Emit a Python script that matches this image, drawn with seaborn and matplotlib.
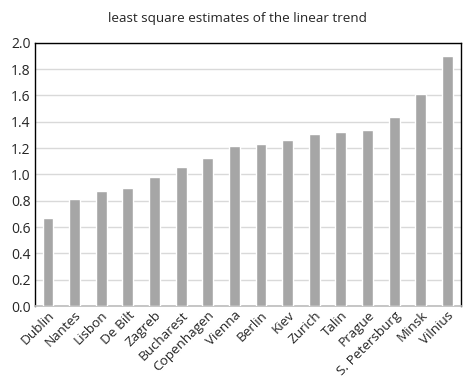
import matplotlib
matplotlib.use("Agg")
import pandas as pd
import matplotlib.pyplot as plt
import seaborn as sns

cities = ["Dublin", "Nantes", "Lisbon", "De Bilt", "Zagreb", "Bucharest", "Copenhagen",
          "Vienna", "Berlin", "Kiev", "Zurich", "Talin", "Prague", "S. Petersburg",
          "Minsk", "Vilnius"]
trend = [0.666, 0.815, 0.876, 0.897, 0.980, 1.054, 1.122, 1.216, 1.233, 1.259,
         1.305, 1.325, 1.335, 1.438, 1.609, 1.902]
yticks = [0.0, 0.2, 0.4, 0.6, 0.8, 1.0, 1.2, 1.4, 1.6, 1.8, 2.0]

df = pd.DataFrame({"city": cities, "trend": trend})

sns.set_theme(style="white")
plt.rcParams["font.family"] = ["Open Sans", "DejaVu Sans"]

fig = plt.figure(figsize=(4.74, 3.79), dpi=100)
ax = fig.add_axes([0.0732, 0.1926, 0.8988, 0.6947])

# bars
sns.barplot(data=df, x="city", y="trend", color="#a6a6a6", saturation=1,
            width=0.41, ax=ax, zorder=3)

ax.set_xlim(-0.5, len(cities) - 0.5)
ax.set_ylim(0, 2.0)
ax.set_yticks(yticks)
ax.set_yticklabels([f"{v:.1f}" for v in yticks], fontsize=10)
ax.yaxis.grid(True, color="#d9d9d9", linewidth=1, zorder=0)
ax.set_xlabel("")
ax.set_ylabel("")
ax.tick_params(axis="x", length=0, pad=2)
ax.tick_params(axis="y", length=0, pad=3)
plt.setp(ax.get_xticklabels(), rotation=45, ha="right", rotation_mode="anchor", fontsize=9.7)

for side in ["left", "top", "right"]:
    ax.spines[side].set_color("black")
    ax.spines[side].set_linewidth(1)
ax.spines["bottom"].set_color("#bfbfbf")

fig.text(0.5, 0.95, "least square estimates of the linear trend", ha="center",
         va="center", fontsize=9.7)

fig.savefig("out.png", dpi=100)
